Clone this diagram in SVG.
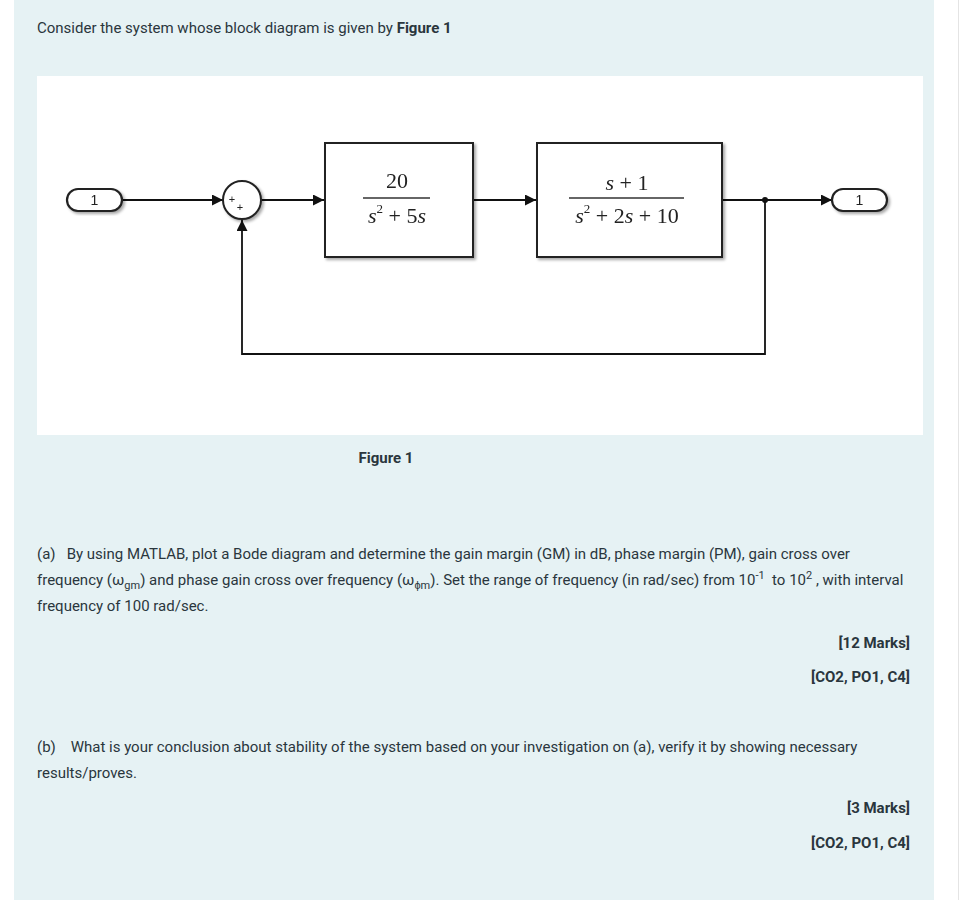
<svg xmlns="http://www.w3.org/2000/svg" width="974" height="900" viewBox="0 0 974 900">
<defs>
<marker id="arr" viewBox="0 0 10 10" refX="10" refY="5" markerWidth="11" markerHeight="11" markerUnits="userSpaceOnUse" orient="auto">
<path d="M0,0 L10,5 L0,10 z" fill="#111"/>
</marker>
<filter id="sh" x="-10%" y="-10%" width="130%" height="130%">
<feGaussianBlur in="SourceAlpha" stdDeviation="1.5"/>
<feOffset dx="2" dy="2" result="b"/>
<feComponentTransfer><feFuncA type="linear" slope="0.35"/></feComponentTransfer>
<feMerge><feMergeNode/><feMergeNode in="SourceGraphic"/></feMerge>
</filter>
</defs>
<style>
.t{font-family:Roboto,"Liberation Sans",sans-serif;font-size:15px;fill:#2a363d;white-space:pre}
.b{font-weight:bold}
.m{font-family:"Liberation Serif",serif;font-size:22px;fill:#222}
.blk{fill:#fff;stroke:#222;stroke-width:2}
.ln{fill:none;stroke:#111;stroke-width:1.8}
.pt{font-family:"Liberation Sans",sans-serif;font-size:14px;fill:#222}
</style>
<rect x="0" y="0" width="974" height="900" fill="#fff"/>
<rect x="14" y="0" width="920" height="900" fill="#e6f2f4"/>
<line x1="958.5" y1="0" x2="958.5" y2="900" stroke="#e4e4e4" stroke-width="1"/>
<rect x="37" y="76" width="886" height="359" fill="#fff"/>

<text class="t" x="37" y="33">Consider the system whose block diagram is given by <tspan class="b">Figure 1</tspan></text>

<g id="connectors">
<line class="ln" x1="122" y1="200" x2="223" y2="200" marker-end="url(#arr)"/>
<line class="ln" x1="261" y1="200" x2="324" y2="200" marker-end="url(#arr)"/>
<line class="ln" x1="473" y1="200" x2="536" y2="200" marker-end="url(#arr)"/>
<line class="ln" x1="722" y1="200" x2="832" y2="200" marker-end="url(#arr)"/>
<polyline class="ln" points="765,200 765,354 242,354 242,220" marker-end="url(#arr)"/>
<circle cx="765" cy="200" r="3" fill="#111"/>
</g>

<g id="in1" filter="url(#sh)">
<rect x="67" y="189" width="55" height="22" rx="11" fill="#fff" stroke="#222" stroke-width="2.2"/>
<text class="pt" x="94.5" y="205" text-anchor="middle">1</text>
</g>

<g id="sum" filter="url(#sh)">
<circle cx="242" cy="200" r="19" fill="#fff" stroke="#222" stroke-width="2"/>
<text x="232" y="203" font-family="Liberation Sans,sans-serif" font-size="11" fill="#222" text-anchor="middle">+</text>
<text x="240" y="211" font-family="Liberation Sans,sans-serif" font-size="11" fill="#222" text-anchor="middle">+</text>
</g>

<g id="G1" filter="url(#sh)">
<rect class="blk" x="325" y="143" width="148" height="114"/>
<text class="m" x="397" y="188" text-anchor="middle">20</text>
<line x1="363" y1="198" x2="430" y2="198" stroke="#333" stroke-width="1.4"/>
<text class="m" x="397" y="223" text-anchor="middle"><tspan font-style="italic">s</tspan><tspan font-size="13" dy="-10">2</tspan><tspan dy="10"> + 5</tspan><tspan font-style="italic">s</tspan></text>
</g>

<g id="G2" filter="url(#sh)">
<rect class="blk" x="537" y="143" width="185" height="114"/>
<text class="m" x="627" y="190" text-anchor="middle"><tspan font-style="italic">s</tspan> + 1</text>
<line x1="569" y1="198" x2="684" y2="198" stroke="#333" stroke-width="1.4"/>
<text class="m" x="627" y="223" text-anchor="middle"><tspan font-style="italic">s</tspan><tspan font-size="13" dy="-10">2</tspan><tspan dy="10"> + 2</tspan><tspan font-style="italic">s</tspan> + 10</text>
</g>

<g id="out1" filter="url(#sh)">
<rect x="832" y="189" width="55" height="22" rx="11" fill="#fff" stroke="#222" stroke-width="2.2"/>
<text class="pt" x="859.5" y="205" text-anchor="middle">1</text>
</g>

<text class="t b" x="386" y="463" text-anchor="middle">Figure 1</text>

<text class="t" x="37" y="559">(a)   By using MATLAB, plot a Bode diagram and determine the gain margin (GM) in dB, phase margin (PM), gain cross over</text>
<text class="t" x="37" y="585">frequency (ω<tspan font-size="11" dy="4">gm</tspan><tspan dy="-4">) and phase gain cross over frequency (ω</tspan><tspan font-size="11" dy="4">ϕm</tspan><tspan dy="-4">). Set the range of frequency (in rad/sec) from 10</tspan><tspan font-size="11" dy="-6">-1</tspan><tspan dy="6">  to 10</tspan><tspan font-size="11" dy="-6">2</tspan><tspan dy="6"> , with interval</tspan></text>
<text class="t" x="37" y="611">frequency of 100 rad/sec.</text>

<text class="t b" x="910" y="648" text-anchor="end">[12 Marks]</text>
<text class="t b" x="910" y="682" text-anchor="end">[CO2, PO1, C4]</text>

<text class="t" x="37" y="752">(b)    What is your conclusion about stability of the system based on your investigation on (a), verify it by showing necessary</text>
<text class="t" x="37" y="778">results/proves.</text>

<text class="t b" x="910" y="813" text-anchor="end">[3 Marks]</text>
<text class="t b" x="910" y="848" text-anchor="end">[CO2, PO1, C4]</text>
</svg>
